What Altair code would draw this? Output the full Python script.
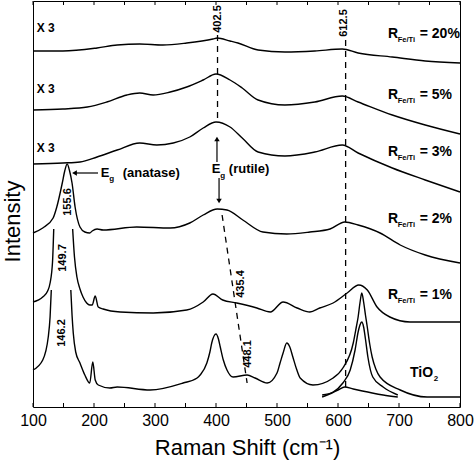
import altair as alt
import pandas as pd

# ---------------- spectra (Raman shift in cm-1, intensity in arbitrary units, stacked) -------------
x_20 = [100, 149, 205, 238, 275, 313, 352, 395, 402, 423, 436, 469, 513, 562, 607, 633, 689, 743, 800]
y_20 = [356, 356, 359, 362, 363, 362, 364, 368, 369, 366, 364, 357, 355, 356, 358, 354, 350, 346, 344]

x_5 = [100, 149, 189, 221, 254, 275, 297, 325, 352, 379, 400, 423, 443, 469, 513, 562, 607, 633, 689, 743, 800]
y_5 = [297, 298, 300, 305, 312, 314, 312, 315, 320, 327, 333, 327, 319, 307, 302, 305, 311, 305, 292, 282, 273]

x_3 = [100, 149, 177, 205, 238, 275, 303, 330, 357, 379, 400, 423, 443, 469, 513, 562, 607, 633, 689, 743, 800]
y_3 = [243, 244, 245, 250, 257, 264, 262, 264, 270, 279, 285, 280, 269, 255, 251, 255, 262, 254, 239, 227, 215]

x_2 = [100, 116, 133, 139, 148, 152, 156, 160, 164, 169, 177, 185, 193, 197, 205, 215, 270, 325, 357, 379,
       402, 418, 444, 477, 516, 554, 587, 611, 633, 669, 702, 743, 800]
y_2 = [174, 179, 189, 200, 224, 236, 243, 236, 224, 200, 180, 175, 174, 176, 178, 177, 180, 179, 184, 192,
       198, 197, 187, 175, 173, 175, 178, 185, 182, 174, 162, 152, 144]

x_1a = [100, 116, 124, 128, 132, 134]
y_1a = [105, 110, 116, 124, 145, 178]
x_1b = [165, 168, 172, 177, 182, 188, 193, 197, 202, 207, 215, 243, 297, 352, 379, 395, 411, 434, 467, 489,
        510, 533, 554, 570, 592, 615, 634, 648, 664, 685, 718, 800]
y_1b = [178, 150, 130, 118, 110, 104, 102, 102, 111, 100, 98, 95, 94, 97, 105, 113, 107, 104, 99, 95,
        105, 99, 95, 99, 104, 114, 122, 117, 100, 90, 85, 85]

x_0a = [100, 116, 125, 128, 130]
y_0a = [37, 47, 70, 90, 117]
x_0b = [162, 164, 166, 170, 177, 185, 193, 198, 202, 207, 226, 238, 292, 346, 369, 374, 385, 390, 393, 400,
        404, 407, 412, 418, 428, 451, 464, 484, 500, 505, 510, 516, 521, 526, 532, 538, 559, 592, 608, 625,
        630, 633, 636, 639, 642, 645, 648, 652, 656, 662, 669, 702, 746, 800]
y_0b = [117, 92, 74, 55, 44, 32, 24, 45, 27, 22, 19, 20, 17, 24, 29, 32, 44, 55, 64, 73,
        68, 60, 47, 37, 30, 32, 29, 24, 34, 44, 54, 64, 60, 50, 38, 29, 22, 29, 39, 64,
        80, 90, 104, 114, 105, 92, 80, 63, 50, 38, 30, 17, 10, 10]

# fitted components of the TiO2 639 band
x_fit1 = [574, 592, 608, 620, 628, 633, 636, 639, 642, 645, 649, 657, 674, 698]
y_fit1 = [12, 15, 24, 37, 57, 75, 82, 85, 80, 68, 50, 30, 20, 12]
x_fit2 = [574, 590, 600, 611, 625, 640, 656, 674, 698]
y_fit2 = [10, 14, 17, 20, 18, 16, 14, 12, 10]

# ---------------- annotations ----------------
lab_text = ["X 3", "X 3", "X 3",
            "R", "R", "R", "R", "R",
            "Fe/Ti", "Fe/Ti", "Fe/Ti", "Fe/Ti", "Fe/Ti",
            "= 20%", "= 5%", "= 3%", "= 2%", "= 1%",
            "TiO", "2",
            "E", "g", "(anatase)", "E", "g", "(rutile)"]
lab_x = [106, 106, 106,
         682, 682, 682, 682, 682,
         698, 698, 698, 698, 698,
         734, 734, 734, 734, 734,
         718, 757,
         211, 225, 247, 393, 407, 421]
lab_y = [375, 314, 255,
         369, 308, 251, 184, 108,
         365, 304, 247, 180, 104,
         369, 308, 251, 184, 108,
         30, 26,
         230, 226, 230, 234, 229, 234]
lab_size = [12, 12, 12,
            14, 14, 14, 14, 14,
            7.5, 7.5, 7.5, 7.5, 7.5,
            14, 14, 14, 14, 14,
            14, 8,
            13, 8, 13, 13, 8, 13]

num_text = ["402.5", "612.5", "155.6", "149.7", "146.2", "435.4", "448.1"]
num_x = [402.5, 610, 157.4, 149.2, 147.5, 441, 452.5]
num_y = [388, 384, 205, 149, 74, 123, 53]

dash_id = ["a", "a", "b", "b", "c", "c"]
dash_x = [402.5, 402.5, 410, 451, 612.5, 612.5]
dash_y = [372, 287, 192, 24, 367, 15]

arrow_id = ["an", "an", "up", "up", "dn", "dn"]
arrow_x = [206.6, 169, 401.6, 401.6, 405, 405]
arrow_y = [234, 234, 245, 268, 229, 206]
head_x = [168, 401.6, 405]
head_y = [234, 268, 206]
head_shape = ["triangle-left", "triangle-up", "triangle-down"]

major_ticks = [100, 200, 300, 400, 500, 600, 700, 800]
minor_ticks = [150, 250, 350, 450, 550, 650, 750]

# ---------------- tables ----------------
segments = {
    "20": (x_20, y_20), "5": (x_5, y_5), "3": (x_3, y_3), "2": (x_2, y_2),
    "1a": (x_1a, y_1a), "1b": (x_1b, y_1b), "0a": (x_0a, y_0a), "0b": (x_0b, y_0b),
    "f1": (x_fit1, y_fit1), "f2": (x_fit2, y_fit2),
}
rows = []
for name, (xs, ys) in segments.items():
    for a, b in zip(xs, ys):
        rows.append({"seg": name, "x": a, "y": b})
curves_df = pd.DataFrame(rows)

labels_df = pd.DataFrame({"x": lab_x, "y": lab_y, "text": lab_text, "size": lab_size})
nums_df = pd.DataFrame({"x": num_x, "y": num_y, "text": num_text})
dash_df = pd.DataFrame({"id": dash_id, "x": dash_x, "y": dash_y})
arrow_df = pd.DataFrame({"id": arrow_id, "x": arrow_x, "y": arrow_y})
head_df = pd.DataFrame({"x": head_x, "y": head_y, "shape": head_shape})
tick_df = pd.DataFrame({"x": major_ticks + minor_ticks})

FONT = "Liberation Sans"

X = alt.X("x:Q",
          scale=alt.Scale(domain=[100, 800], nice=False, zero=False),
          axis=alt.Axis(values=major_ticks, labelFontSize=16, labelFont=FONT, labelColor="black",
                        ticks=False, tickSize=0, domain=False, grid=False, labelPadding=5,
                        labelFlush=False, labelOverlap=False,
                        title="Raman Shift (cm⁻¹)", titleFont=FONT, titleFontSize=22,
                        titleFontWeight="normal", titleColor="black",
                        titleX=214, titleY=47, titleAlign="center", titleBaseline="alphabetic"))
Y = alt.Y("y:Q",
          scale=alt.Scale(domain=[0, 406], nice=False, zero=False),
          axis=alt.Axis(labels=False, ticks=False, domain=False, grid=False,
                        title="Intensity", titleFont=FONT, titleFontSize=22,
                        titleFontWeight="normal", titleColor="black", titleAngle=270,
                        titleX=-14, titleY=220, titleAlign="center", titleBaseline="alphabetic"))

curves = alt.Chart(curves_df).mark_line(color="black", strokeWidth=1.4, interpolate="monotone").encode(
    x=X, y=Y, detail="seg:N")

dashes = alt.Chart(dash_df).mark_line(color="black", strokeWidth=1.3, strokeDash=[6, 5]).encode(
    x=X, y=Y, detail="id:N")

arrows = alt.Chart(arrow_df).mark_line(color="black", strokeWidth=1.2).encode(
    x=X, y=Y, detail="id:N")

heads = alt.Chart(head_df).mark_point(filled=True, color="black", size=30, opacity=1).encode(
    x=X, y=Y, shape=alt.Shape("shape:N", scale=None))

labels = alt.Chart(labels_df).mark_text(align="left", baseline="alphabetic", fontWeight="bold",
                                        font=FONT, color="black").encode(
    x=X, y=Y, text="text:N", size=alt.Size("size:Q", scale=None))

nums = alt.Chart(nums_df).mark_text(angle=270, align="center", baseline="middle", fontWeight="bold",
                                    font=FONT, fontSize=11, color="black").encode(
    x=X, y=Y, text="text:N")

ticks_bottom = alt.Chart(tick_df).mark_rule(color="black", strokeWidth=1).encode(
    x=X, y=alt.value(402), y2=alt.value(406))
ticks_top = alt.Chart(tick_df).mark_rule(color="black", strokeWidth=1).encode(
    x=X, y=alt.value(0), y2=alt.value(4))

chart = alt.layer(curves, dashes, arrows, heads, labels, nums, ticks_bottom, ticks_top).properties(
    width=427, height=406,
    autosize=alt.AutoSizeParams(type="none"),
    padding={"left": 33, "top": 1, "right": 14, "bottom": 53},
    background="white",
).configure_view(stroke="black", strokeWidth=1)

chart.save("out.html", embed_options={"renderer": "svg", "actions": False})
